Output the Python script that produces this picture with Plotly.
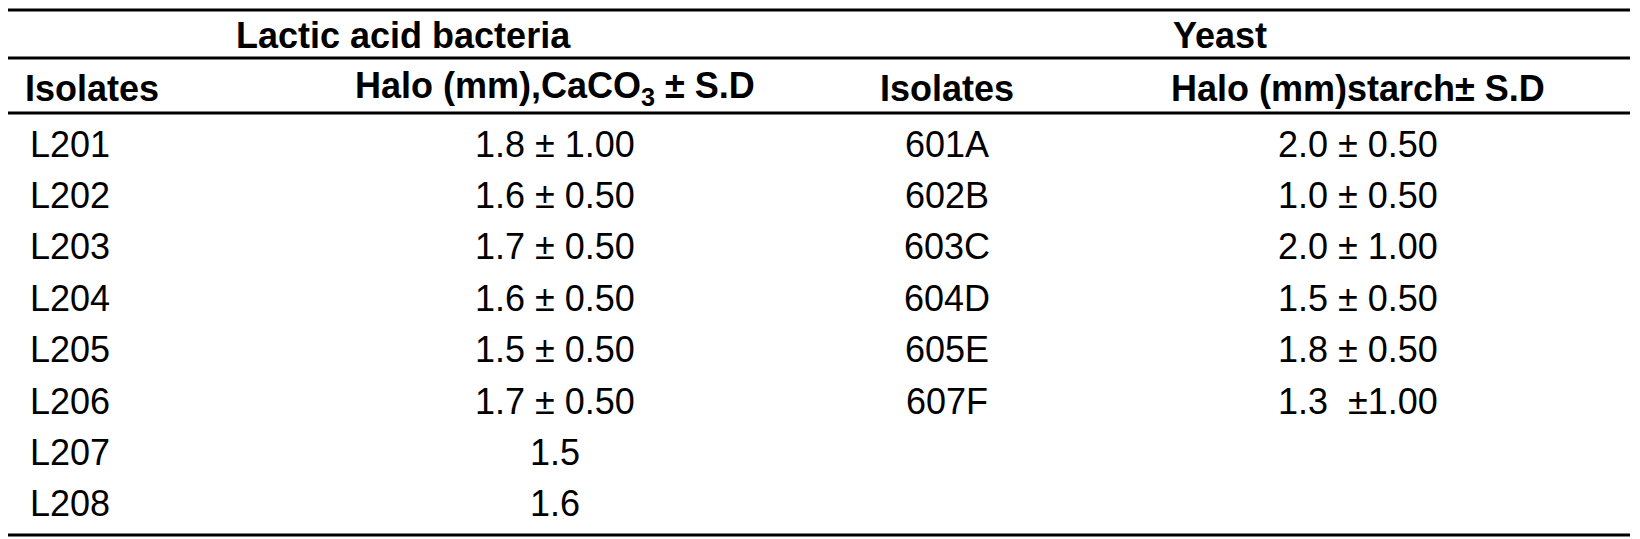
import plotly.graph_objects as go

lab_isolates = ["L201", "L202", "L203", "L204", "L205", "L206", "L207", "L208"]
lab_halo = ["1.8 ± 1.00", "1.6 ± 0.50", "1.7 ± 0.50", "1.6 ± 0.50", "1.5 ± 0.50", "1.7 ± 0.50", "1.5", "1.6"]
yeast_isolates = ["601A", "602B", "603C", "604D", "605E", "607F"]
yeast_halo = ["2.0 ± 0.50", "1.0 ± 0.50", "2.0 ± 1.00", "1.5 ± 0.50", "1.8 ± 0.50", "1.3  ±1.00"]
group_headers = ["Lactic acid bacteria", "Yeast"]
col_headers = ["Isolates", "Halo (mm),CaCO<sub>3</sub> ± S.D", "Isolates", "Halo (mm)starch± S.D"]

W, H = 1640, 539
FONT = "Liberation Sans, Arial, sans-serif"
FS = 36
row_y = [136 + 51.4 * i for i in range(8)]

fig = go.Figure()
ann = []
def t(x, y, s, bold=False, anchor="center"):
    ann.append(dict(x=x, y=y, xref="x", yref="y", text=f"<b>{s}</b>" if bold else s,
                    showarrow=False, xanchor=anchor, yanchor="middle",
                    font=dict(family=FONT, size=FS, color="black")))

t(395, 27, group_headers[0], True)
t(1212, 27, group_headers[1], True)
t(15, 80, col_headers[0], True, "left")
t(547, 80, col_headers[1], True)
t(939, 80, col_headers[2], True)
t(1350, 80, col_headers[3], True)
for i, (a, b) in enumerate(zip(lab_isolates, lab_halo)):
    t(20, row_y[i], a, anchor="left")
    t(547, row_y[i], b)
for i, (a, b) in enumerate(zip(yeast_isolates, yeast_halo)):
    t(939, row_y[i], a)
    t(1350, row_y[i], b)

shapes = [dict(type="line", xref="x", yref="y", x0=0, x1=1622, y0=y, y1=y,
               line=dict(color="black", width=3)) for y in (2, 50, 105, 527)]

fig.add_trace(go.Scatter(x=[0, W], y=[0, H], mode="markers", marker=dict(opacity=0), hoverinfo="skip", showlegend=False))
fig.update_layout(width=W, height=H, margin=dict(l=0, r=0, t=0, b=0),
                  paper_bgcolor="white", plot_bgcolor="white",
                  annotations=ann, shapes=shapes,
                  xaxis=dict(range=[0, W], visible=False, fixedrange=True),
                  yaxis=dict(range=[H, 0], visible=False, fixedrange=True))
fig.write_html("out.html")
